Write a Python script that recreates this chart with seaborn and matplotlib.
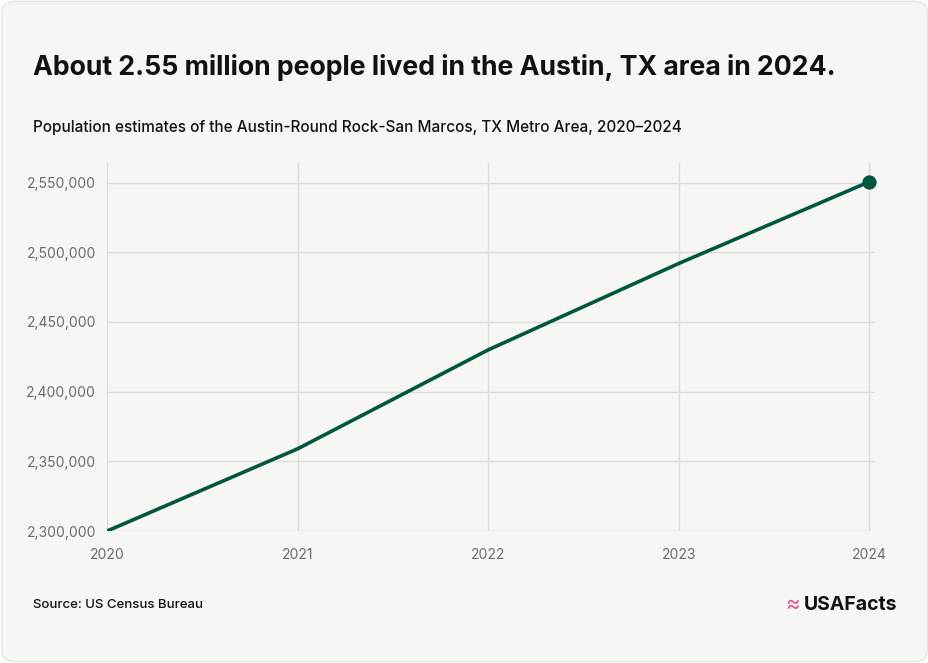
import matplotlib.pyplot as plt
import seaborn as sns
import pandas as pd
from matplotlib.patches import FancyBboxPatch
from matplotlib.ticker import FuncFormatter

# --- Data ---
YEARS = [2020, 2021, 2022, 2023, 2024]
POPULATION = [2300000, 2359000, 2430000, 2492000, 2550637]
Y_TICKS = [2300000, 2350000, 2400000, 2450000, 2500000, 2550000]

BG = '#f6f6f2'
LINE = '#00573f'
GRID = '#dcdcd8'
TICK = '#6b6b6b'

df = pd.DataFrame({'Year': YEARS, 'Population': POPULATION})

sns.set_theme(style='white')
plt.rcParams['font.family'] = ['Inter', 'DejaVu Sans']

fig = plt.figure(figsize=(9.29, 6.63), dpi=100, facecolor='white')
card = FancyBboxPatch((0.002, 0.002), 0.996, 0.996, boxstyle='round,pad=0,rounding_size=0.015',
                      transform=fig.transFigure, facecolor=BG, edgecolor='#e6e6e2', linewidth=1,
                      zorder=-10)
fig.patches.append(card)

ax = fig.add_axes([0.1152, 0.199, 0.8268, 0.555])
ax.set_facecolor(BG)

sns.lineplot(data=df, x='Year', y='Population', ax=ax, color=LINE, linewidth=2.6, zorder=3)
last = df.iloc[[-1]]
sns.scatterplot(data=last, x='Year', y='Population', ax=ax, color=LINE, s=90,
                edgecolor=LINE, zorder=4, legend=False, clip_on=False)

ax.set_xlim(2020, 2024.03)
ax.set_ylim(2300000, 2564000)
ax.set_xticks(YEARS)
ax.set_yticks(Y_TICKS)
ax.yaxis.set_major_formatter(FuncFormatter(lambda v, p: f'{int(v):,}'))
ax.grid(True, color=GRID, linewidth=1)
for s in ax.spines.values():
    s.set_visible(False)
ax.tick_params(axis='both', length=0, labelsize=10, labelcolor=TICK)
ax.tick_params(axis='x', pad=12)
ax.tick_params(axis='y', pad=8)
ax.set_xlabel('')
ax.set_ylabel('')

fig.text(0.035, 0.898, 'About 2.55 million people lived in the Austin, TX area in 2024.',
         fontsize=19.2, fontweight='bold', color='#111111', va='center')
fig.text(0.035, 0.807, 'Population estimates of the Austin-Round Rock-San Marcos, TX Metro Area, 2020\u20132024',
         fontsize=11, fontweight='medium', color='#111111', va='center')
fig.text(0.035, 0.088, 'Source: US Census Bureau', fontsize=9.5, fontweight='medium',
         color='#111111', va='center')
fig.text(0.966, 0.087, 'USAFacts', fontsize=14, fontweight='bold', color='#111111',
         va='center', ha='right')
fig.text(0.853, 0.087, '\u2248', fontsize=16, color='#e8559a', va='center', ha='center')

plt.savefig('out.png', dpi=100, facecolor='white')
